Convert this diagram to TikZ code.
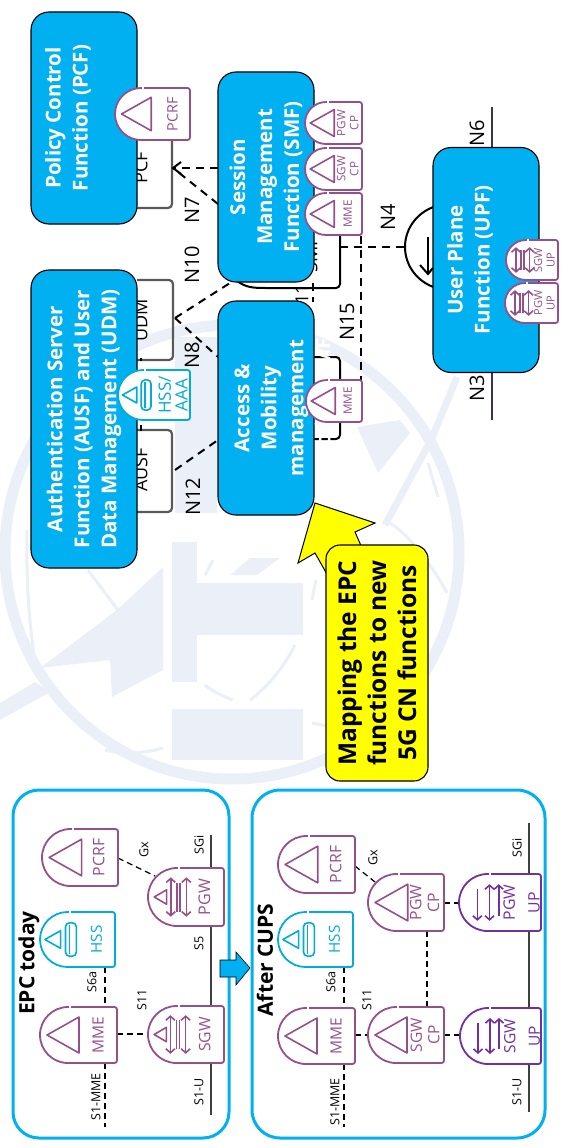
\documentclass[tikz,border=0pt]{standalone}
\usepackage{fontspec}
\setmainfont{Open Sans}
\usetikzlibrary{arrows.meta,calc}
\definecolor{cblue}{HTML}{00B0F0}
\definecolor{iplum}{HTML}{95508C}
\definecolor{icyan}{HTML}{00ACD8}
\definecolor{ipurple}{HTML}{7030A0}
\definecolor{wm}{HTML}{EAEFF8}
\definecolor{greyline}{HTML}{595959}
\definecolor{darkbar}{HTML}{403152}
\definecolor{callyellow}{HTML}{FFFF00}
\tikzset{
  fnbox/.style={draw=black,line width=1.1pt,fill=cblue,rounded corners=18pt,rotate=90,align=center,
    text=white,font=\fontsize{20.5}{27}\selectfont\bfseries,inner sep=0pt},
  panel/.style={draw=cblue,line width=3pt,fill=white},
  ctrl/.style={draw=black,line width=2pt,dash pattern=on 8pt off 6pt},
  thin dash/.style={draw=black,line width=1.2pt,dash pattern=on 6pt off 4pt},
  bracket/.style={draw=greyline,line width=2.2pt,rounded corners=4pt},
  nlabel/.style={rotate=90,font=\fontsize{20}{20}\selectfont,inner sep=0pt},
  ilabel/.style={rotate=90,font=\fontsize{18}{18}\selectfont,inner sep=0pt},
  slabel/.style={rotate=90,font=\fontsize{12.5}{12.5}\selectfont,inner sep=0pt},
  wmark/.style={fill=wm,draw=none},
  wmthin/.style={draw=wm,line width=3pt},
  wmmid/.style={draw=wm,line width=7pt},
  tipb/.style={{Straight Barb[length=4pt,width=9pt]}-{Straight Barb[length=4pt,width=9pt]}},
  tipe/.style={-{Straight Barb[length=4pt,width=9pt]}},
  tips/.style={{Straight Barb[length=4pt,width=9pt]}-},
}
% icon: name, x0, y0, x1, y1, colour, glyph macro, text
\newcommand{\fnicon}[8]{%
  \pgfmathsetmacro{\ir}{(#5-#3)/2}%
  \pgfmathsetmacro{\iy}{(#5+#3)/2}%
  \pgfmathsetmacro{\is}{(#5-#3)/56}%
  \pgfmathsetmacro{\ifs}{15.5*\is}%
  \pgfmathsetmacro{\ifl}{17.5*\is}%
  \path[draw=#6,line width=1.8pt,fill=white]
    (#2+\ir,#3) arc[start angle=90,end angle=270,radius=\ir pt]
    [rounded corners=2.5pt] -- (#4,#5) -- (#4,#3) -- (#2+\ir,#3);
  \draw[white,line width=2pt] (#2+\ir+1,#3) -- ++(2,0);
  \node[inner sep=0pt,minimum size=0pt] (#1) at ($(#2,#3)!.5!(#4,#5)$) {};
  \begin{scope}[shift={(#2,\iy)},scale=\is,draw=#6,line width=1.6pt]
    #7
  \end{scope}
  \node[rotate=90,text=#6,align=center,inner sep=0pt,font=\fontsize{\ifs}{\ifl}\selectfont] at (#4-19*\is,\iy) {#8};
}
\newcommand{\gltri}{\draw[line join=round] (7,0) -- (39,-18) -- (39,18) -- cycle;}
\newcommand{\glarrowsa}{%
  \draw[line join=round] (6,0) -- (18,-7) -- (18,7) -- cycle;
  \draw[tipb] (22,-19) -- (22,19);
  \draw[tipb] (37,-19) -- (37,19);
  \draw (28,-14) -- (28,14); \draw (31,-14) -- (31,14);
}
\newcommand{\glarrowsb}{%
  \draw[tipe] (18,-13) -- (18,18);
  \draw[tipb] (30,-18) -- (30,18);
  \draw[tips] (39,-18) -- (39,13);
}
\newcommand{\glarrowsc}{%
  \draw[tipb] (14,-18) -- (14,18);
  \draw (21,-14) -- (21,14); \draw (25,-14) -- (25,14);
  \draw[tipb] (33,-18) -- (33,18);
}
\newcommand{\glhss}{%
  \draw[line join=round] (5,0) -- (21,-9) -- (21,9) -- cycle;
  \draw[rounded corners=4pt] (26,-17) rectangle (37,17);
  \draw (30,-15) -- (30,15);
}
\begin{document}
\begin{tikzpicture}[x=1pt,y=-1pt]
\useasboundingbox (0,0) rectangle (567,1148);
% ---- watermark
\draw[wm,line width=11pt] (232,552) circle[radius=227pt];
\fill[wmark] (172,709) rectangle (303,760);
\fill[wmark] (197,583) rectangle (303,635);
\fill[wmark] (172,542) rectangle (197,682);
\fill[wmark] (175,337) rectangle (217,513);
\fill[wmark] (163,567) -- (117,610) -- (40,668) -- (110,660) -- (112,697) -- (163,670) -- cycle;
\fill[wmark] (0,703) -- (35,682) -- (50,692) -- (0,720) -- cycle;
\fill[wmark] (230,575) -- (257,575) -- (280,558) -- (250,558) -- cycle;
\fill[wmark] (357,427) -- (378,473) -- (410,433) -- (400,420) -- cycle;
\draw[wmthin] (27,530) .. controls (26,590) and (30,630) .. (36,668);
\draw[wmthin] (105,750) .. controls (125,755) and (145,753) .. (163,748);
\draw[wmthin] (88,570) -- (118,610);
\draw[wmthin] (295,645) .. controls (285,665) and (270,685) .. (250,700);
\draw[wmthin] (205,685) .. controls (215,693) and (225,697) .. (233,700);
\draw[wmthin] (205,575) -- (213,560);
\draw[wmthin] (390,523) .. controls (410,535) and (435,570) .. (447,593);
\draw[wmthin] (428,463) -- (438,497);
\draw[wmmid] (457,377) -- (432,438);
\draw[wmmid] (432,438) -- (385,525);
\draw[wmthin] (312,723) -- (328,726);
\draw[wmthin] (312,600) -- (316,580);
% ---- coordinates of free ends
\coordinate (pcfA) at (137,208); \coordinate (pcfB) at (172,208); \coordinate (pcfC) at (172,130);
\coordinate (ausfA) at (137,512); \coordinate (ausfB) at (172,512); \coordinate (ausfC) at (172,430); \coordinate (ausfD) at (137,430);
\coordinate (udmA) at (137,280); \coordinate (udmB) at (173,280); \coordinate (udmC) at (173,360); \coordinate (udmD) at (137,360);
\coordinate (n7tip) at (173,168);
\coordinate (n8hub) at (175,318);
\coordinate (n12hub) at (175,470);
% ---- labels behind boxes
\node[ilabel] (pcflab) at (141,168) {PCF};
\node[ilabel] (udmlab) at (141,320) {UDM};
\node[ilabel] (ausflab) at (141,470) {AUSF};
\node[ilabel] (smflab) at (311,255) {SMF};
\node[ilabel] (n11lab) at (302,301) {N11};
% ---- grey brackets
\draw[bracket] (pcfA) -- (pcfB) -- (pcfC);
\draw[bracket] (ausfA) -- (ausfB) -- (ausfC) -- (ausfD);
\draw[bracket] (udmA) -- (udmB) -- (udmC) -- (udmD);
\draw[black,line width=1.6pt] (141,425) -- (141,431);
\draw[black,line width=1.6pt] (141,358) -- (141,361);
% ---- UPF bar and N4 loop
\coordinate (barT) at (492,107); \coordinate (barB) at (492,420);
\draw[darkbar,line width=2.6pt] (barT) -- (barB);
\coordinate (loopA) at (440,205); \coordinate (loopB) at (440,289); \coordinate (loopW) at (405,247);
\draw[black,line width=2pt] (loopA) .. controls (418,210) and (405,228) .. (loopW) .. controls (405,266) and (418,284) .. (loopB);
% ---- SMF / AMF black lines
\coordinate (s1) at (236,280); \coordinate (s2) at (340,288); \coordinate (s3) at (340,230); \coordinate (n4h) at (340,247);
\draw[black,line width=2pt,rounded corners=4pt] (s1) .. controls (245,288) and (255,288) .. (270,288) -- (s2) -- (s3);
\coordinate (a1) at (312,357); \coordinate (a2) at (340,357); \coordinate (a3) at (340,439); \coordinate (a4) at (312,439);
\draw[black,line width=2pt,rounded corners=4pt] (a1) -- (a2) -- (a3) -- (a4);
% ---- dashed control lines
\draw[ctrl] (n4h) -- (loopW);
\coordinate (n15a) at (361,236); \coordinate (n15b) at (361,382);
\draw[ctrl] (n15a) -- (n15b);
\coordinate (n11a) at (313,283); \coordinate (n11b) at (313,302);
\draw[ctrl] (n11a) -- (n11b);
\coordinate (n7a) at (218,168); \coordinate (n7b) at (218,204);
\draw[ctrl] (n7a) -- (n7tip);
\draw[ctrl] (n7b) -- (n7tip);
\draw[black,line width=2pt] (181,162) -- (n7tip) -- (181,174);
\coordinate (n10a) at (230,283); \coordinate (n8a) at (218,357);
\draw[ctrl] (n8hub) -- (n10a);
\draw[ctrl] (n8hub) -- (n8a);
\coordinate (n12a) at (218,440);
\draw[ctrl] (n12hub) -- (n12a);
% ---- function boxes
\node[fnbox,minimum width=212pt,minimum height=106pt] (pcf) at (84,118) {Policy Control\\Function (PCF)\\\strut};
\node[fnbox,minimum width=298pt,minimum height=106pt] (udm) at (84,419) {Authentication Server\\Function (AUSF) and User\\Data Management (UDM)};
\node[fnbox,minimum width=210pt,minimum height=96pt] (smf) at (266,177) {Session\\Management\\Function (SMF)};
\node[fnbox,minimum width=214pt,minimum height=96pt] (amf) at (266,408) {};
\node[rotate=90,align=center,text=white,font=\fontsize{20.5}{27}\selectfont\bfseries,inner sep=0pt] (amftxt) at (284,408) {Access \&\\Mobility\\management\\Function (AMF)};
\node[fnbox,minimum width=225pt,minimum height=106pt] (upf) at (486,260) {User Plane\\Function (UPF)\\\strut};
% ---- arrow inside N4 loop
\coordinate (ua) at (428,237); \coordinate (ub) at (428,274);
\draw[black,line width=2pt] (ua) -- (ub);
\draw[black,line width=2pt] (420,265) -- (ub) -- (433,268);
% ---- callout
\path[draw=black,line width=1pt,fill=callyellow] (315,503) -- (375,523) -- (355,532) -- (362,548) -- (328,576) -- (315,553) -- (298,563) -- cycle;
\node[draw=black,line width=1.1pt,fill=callyellow,rounded corners=14pt,rotate=90,minimum width=236pt,minimum height=102pt,align=center,inner sep=0pt,
  font=\fontsize{24.5}{30}\selectfont\bfseries] (call) at (377,663) {Mapping the EPC\\functions to new\\5G CN functions};
% ---- N labels
\node[nlabel] (ln7) at (192,210) {N7};
\node[nlabel] (ln10) at (192,265) {N10};
\node[nlabel] (ln8) at (192,355) {N8};
\node[nlabel] (ln12) at (193,497) {N12};
\node[nlabel] (ln15) at (347,322) {N15};
\node[nlabel] (ln4) at (388,217) {N4};
\node[nlabel] (ln6) at (477,133) {N6};
\node[nlabel] (ln3) at (477,388) {N3};
% ---- icons on boxes
\fnicon{pcrfA}{115}{88}{190}{140}{iplum}{\gltri}{PCRF}
\fnicon{hssA}{118}{370}{190}{420}{icyan}{\glhss}{\fontsize{17}{19}\selectfont HSS/\\[1pt]\fontsize{17}{19}\selectfont AAA}
\fnicon{pgwcpA}{305}{102}{362}{144}{iplum}{\gltri}{PGW\\CP}
\fnicon{sgwcpA}{305}{148}{362}{190}{iplum}{\gltri}{SGW\\CP}
\fnicon{mmeA}{305}{193}{362}{235}{iplum}{\gltri}{MME}
\fnicon{mmeB}{306}{380}{362}{422}{iplum}{\gltri}{MME}
\fnicon{sgwupA}{506}{240}{558}{280}{iplum}{\glarrowsc}{SGW\\UP}
\fnicon{pgwupA}{505}{283}{558}{323}{iplum}{\glarrowsc}{PGW\\UP}
% ---- EPC today panel
\node[panel,rounded corners=26pt,minimum width=216pt,minimum height=348pt] (epc) at (121,964) {};
\node[rotate=90,font=\fontsize{21}{21}\selectfont\bfseries,inner sep=0pt] (epct) at (29,963) {EPC today};
\coordinate (su1) at (211,835); \coordinate (su2) at (211,1115);
\draw[black!75,line width=1.5pt] (su1) -- (su2);
\coordinate (sm1) at (105,1063); \coordinate (sm2) at (105,1127); \coordinate (sa1) at (105,967); \coordinate (sa2) at (105,1007);
\draw[thin dash] (sm1) -- (sm2); \draw[thin dash] (sa1) -- (sa2);
\coordinate (s11a) at (117,1034); \coordinate (s11b) at (148,1034);
\draw[thin dash] (s11a) -- (s11b);
\coordinate (gxa) at (118,858); \coordinate (gxb) at (155,876);
\draw[thin dash] (gxa) -- (gxb);
\fnicon{mme1}{40}{1007}{117}{1063}{iplum}{\gltri}{MME}
\fnicon{hss1}{40}{912}{115}{967}{icyan}{\glhss}{HSS}
\fnicon{pcrf1}{42}{829}{118}{886}{iplum}{\gltri}{PCRF}
\fnicon{pgw1}{148}{868}{224}{926}{iplum}{\glarrowsa}{PGW}
\fnicon{sgw1}{148}{1006}{224}{1063}{iplum}{\glarrowsa}{SGW}
\node[slabel] (l1) at (144,850) {Gx};
\node[slabel] (l2) at (199,845) {SGi};
\node[slabel] (l3) at (199,943) {S5};
\node[slabel] (l4) at (142,1000) {S11};
\node[slabel] (l5) at (92,982) {S6a};
\node[slabel] (l6) at (96,1097) {S1-MME};
\node[slabel] (l7) at (199,1092) {S1-U};
% ---- After CUPS panel
\node[panel,rounded corners=28pt,minimum width=293pt,minimum height=348pt] (cups) at (398.5,964) {};
\node[rotate=90,font=\fontsize{21}{21}\selectfont\bfseries,inner sep=0pt] (cupst) at (265,960) {After CUPS};
\coordinate (ru1) at (529,823); \coordinate (ru2) at (529,1112);
\draw[black!75,line width=1.5pt] (ru1) -- (ru2);
\coordinate (rm1) at (344,1064); \coordinate (rm2) at (344,1127); \coordinate (ra1) at (344,967); \coordinate (ra2) at (344,1008);
\draw[thin dash] (rm1) -- (rm2); \draw[thin dash] (ra1) -- (ra2);
\coordinate (r11a) at (355,1035); \coordinate (r11b) at (368,1035);
\draw[thin dash] (r11a) -- (r11b);
\coordinate (rgxa) at (355,866); \coordinate (rgxb) at (375,882);
\draw[thin dash] (rgxa) -- (rgxb);
\coordinate (rpa) at (444,903); \coordinate (rpb) at (459,903);
\draw[thin dash] (rpa) -- (rpb);
\coordinate (rsa) at (444,1035); \coordinate (rsb) at (460,1035);
\draw[thin dash] (rsa) -- (rsb);
\coordinate (rva) at (427,931); \coordinate (rvb) at (427,1007);
\draw[thin dash] (rva) -- (rvb);
\fnicon{mme2}{278}{1008}{355}{1064}{iplum}{\gltri}{MME}
\fnicon{hss2}{278}{912}{353}{967}{icyan}{\glhss}{HSS}
\fnicon{pcrf2}{278}{836}{355}{893}{iplum}{\gltri}{PCRF}
\fnicon{pgwcp2}{368}{874}{444}{931}{iplum}{\gltri}{PGW\\CP}
\fnicon{sgwcp2}{368}{1007}{444}{1063}{iplum}{\gltri}{SGW\\CP}
\fnicon{pgwup2}{459}{874}{541}{931}{ipurple}{\glarrowsb}{PGW\\[7pt]UP}
\fnicon{sgwup2}{460}{1008}{541}{1064}{ipurple}{\glarrowsb}{SGW\\[7pt]UP}
\node[slabel] (r1) at (373,858) {Gx};
\node[slabel] (r2) at (517,848) {SGi};
\node[slabel] (r4) at (367,1000) {S11};
\node[slabel] (r5) at (331,982) {S6a};
\node[slabel] (r6) at (335,1102) {S1-MME};
\node[slabel] (r7) at (517,1092) {S1-U};
% ---- arrow between panels
\path[draw=black,line width=.6pt,fill=cblue] (220,960) -- (236,960) -- (236,952) -- (250,968) -- (236,985) -- (236,977) -- (220,977) -- cycle;
\end{tikzpicture}
\end{document}
